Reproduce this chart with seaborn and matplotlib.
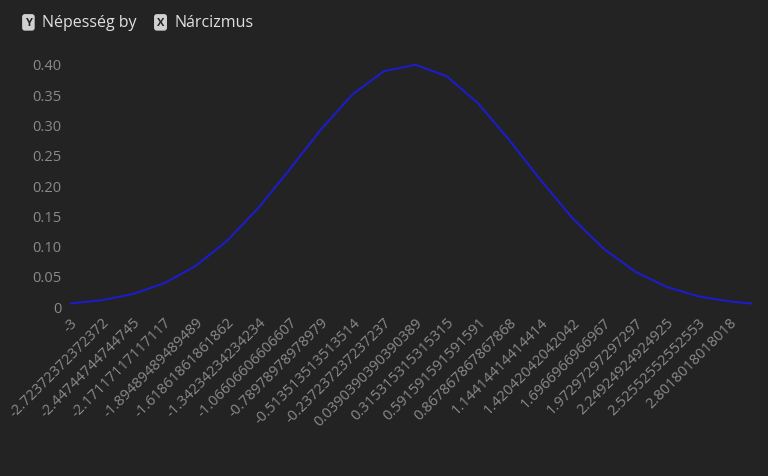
import numpy as np
import matplotlib
matplotlib.use('Agg')
import matplotlib.pyplot as plt
import seaborn as sns

BG = '#232323'; TEXT = '#8a8a8a'

# x grid of the source series (1000 points, -3..3); a label on every 46th
x_grid = np.linspace(-3, 3, 1000)
tick_vals = x_grid[::46]

# density at the labelled positions (+ right end)
xs = list(tick_vals) + [3.0]
ys = [0.0044, 0.0098, 0.0200, 0.0378, 0.0663, 0.1077, 0.1620, 0.2260, 0.2921,
      0.3497, 0.3878, 0.3986, 0.3796, 0.3348, 0.2737, 0.2077, 0.1456, 0.0947,
      0.0571, 0.0318, 0.0164, 0.0079, 0.0044]
yticks = [0, 0.05, 0.10, 0.15, 0.20, 0.25, 0.30, 0.35, 0.40]

sns.set_style('dark')
plt.rcParams['font.family'] = ['Open Sans', 'DejaVu Sans']
fig = plt.figure(figsize=(7.68, 4.77), dpi=100)
fig.patch.set_facecolor(BG)
ax = fig.add_axes([0.091, 0.356, 0.888, 0.508])
ax.set_facecolor(BG)
sns.lineplot(x=xs, y=ys, ax=ax, color='#1c1cc8', linewidth=1.5)

ax.set_xlim(-3, 3)
ax.set_ylim(0, 0.40)
ax.set_yticks(yticks)
ax.set_yticklabels(['0'] + [f'{v:.2f}' for v in yticks[1:]])
ax.set_xticks(tick_vals)
ax.set_xticklabels(['%.15g' % v for v in tick_vals],
                   rotation=45, ha='right', rotation_mode='anchor')
ax.tick_params(colors=TEXT, labelsize=10.5, length=0, pad=6)
ax.grid(False)
for s in ax.spines.values():
    s.set_visible(False)

def badge(x, ch):
    fig.text(x, 0.951, ch, color='#232323', fontsize=8, fontweight='bold',
             ha='center', va='center',
             bbox=dict(boxstyle='round,pad=0.25', fc='#d0d0d0', ec='none'))

badge(0.037, 'Y')
fig.text(0.055, 0.951, 'Népesség by', color='#e0e0e0', fontsize=11.5, va='center')
badge(0.209, 'X')
fig.text(0.227, 0.951, 'Nárcizmus', color='#e0e0e0', fontsize=11.5, va='center')

fig.savefig('out.png', dpi=100, facecolor=BG)
